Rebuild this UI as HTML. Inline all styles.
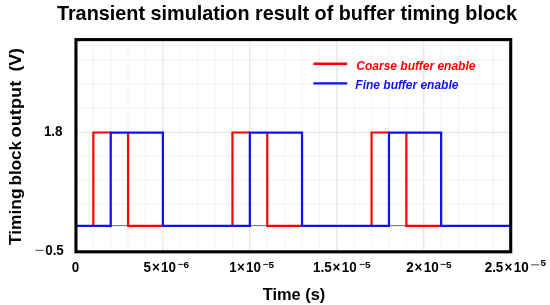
<!DOCTYPE html>
<html><head><meta charset="utf-8"><title>Transient simulation result of buffer timing block</title>
<style>
html,body{margin:0;padding:0;background:#fff;}
svg{display:block;}
text{font-family:"Liberation Sans",sans-serif;font-weight:bold;fill:#000;}
.tk{font-size:13.4px;}
.sup{font-size:8.6px;}
</style></head><body>
<svg width="550" height="305" viewBox="0 0 550 305">
<rect width="550" height="305" fill="#fff"/>
<g stroke="#f3f3f3" stroke-width="1">
<line x1="93.34" y1="39.6" x2="93.34" y2="251.8"/>
<line x1="110.73" y1="39.6" x2="110.73" y2="251.8"/>
<line x1="128.12" y1="39.6" x2="128.12" y2="251.8"/>
<line x1="145.51" y1="39.6" x2="145.51" y2="251.8"/>
<line x1="180.29" y1="39.6" x2="180.29" y2="251.8"/>
<line x1="197.68" y1="39.6" x2="197.68" y2="251.8"/>
<line x1="215.07" y1="39.6" x2="215.07" y2="251.8"/>
<line x1="232.46" y1="39.6" x2="232.46" y2="251.8"/>
<line x1="267.24" y1="39.6" x2="267.24" y2="251.8"/>
<line x1="284.63" y1="39.6" x2="284.63" y2="251.8"/>
<line x1="302.02" y1="39.6" x2="302.02" y2="251.8"/>
<line x1="319.41" y1="39.6" x2="319.41" y2="251.8"/>
<line x1="354.19" y1="39.6" x2="354.19" y2="251.8"/>
<line x1="371.58" y1="39.6" x2="371.58" y2="251.8"/>
<line x1="388.97" y1="39.6" x2="388.97" y2="251.8"/>
<line x1="406.36" y1="39.6" x2="406.36" y2="251.8"/>
<line x1="441.14" y1="39.6" x2="441.14" y2="251.8"/>
<line x1="458.53" y1="39.6" x2="458.53" y2="251.8"/>
<line x1="475.92" y1="39.6" x2="475.92" y2="251.8"/>
<line x1="493.31" y1="39.6" x2="493.31" y2="251.8"/>
<line x1="75.95" y1="60.0" x2="510.7" y2="60.0"/>
<line x1="75.95" y1="84.2" x2="510.7" y2="84.2"/>
<line x1="75.95" y1="108.3" x2="510.7" y2="108.3"/>
<line x1="75.95" y1="156.2" x2="510.7" y2="156.2"/>
<line x1="75.95" y1="180.1" x2="510.7" y2="180.1"/>
<line x1="75.95" y1="204.0" x2="510.7" y2="204.0"/>
</g>
<g stroke="#dfdfdf" stroke-width="1">
<line x1="162.9" y1="39.6" x2="162.9" y2="251.8"/>
<line x1="249.85" y1="39.6" x2="249.85" y2="251.8"/>
<line x1="336.8" y1="39.6" x2="336.8" y2="251.8"/>
<line x1="423.75" y1="39.6" x2="423.75" y2="251.8"/>
<line x1="75.95" y1="132.4" x2="510.7" y2="132.4"/>
</g>
<line x1="75.95" y1="225.65" x2="510.7" y2="225.65" stroke="#6e6e6e" stroke-width="1"/>
<path d="M93.34,225.95 V132.5 H110.73 M128.12,132.5 V225.95 H162.9 M232.46,225.95 V132.5 H249.85 M267.24,132.5 V225.95 H302.02 M371.58,225.95 V132.5 H388.97 M406.36,132.5 V225.95 H441.14" fill="none" stroke="#ff0000" stroke-width="2.2" stroke-linejoin="miter"/>
<path d="M75.95,225.95 H110.73 V132.5 H162.9 V225.95 H249.85 V132.5 H302.02 V225.95 H388.97 V132.5 H441.14 V225.95 H510.7" fill="none" stroke="#1010ff" stroke-width="2.25" stroke-linejoin="miter"/>
<rect x="75.95" y="39.6" width="434.75" height="212.20000000000002" fill="none" stroke="#000" stroke-width="3.1"/>
<text x="56.9" y="20.3" font-size="19.7px" textLength="460.2" lengthAdjust="spacingAndGlyphs">Transient simulation result of buffer timing block</text>
<line x1="313.4" y1="63.8" x2="347.2" y2="63.8" stroke="#ff0000" stroke-width="2.4"/>
<line x1="313.4" y1="83.4" x2="347.2" y2="83.4" stroke="#1010ff" stroke-width="2.4"/>
<text x="356.3" y="69.6" font-size="12px" font-style="italic" style="fill:#ff0000">Coarse buffer enable</text>
<text x="355.3" y="89.0" font-size="12px" font-style="italic" style="fill:#1010ff">Fine buffer enable</text>
<line x1="35.3" y1="250.3" x2="43.9" y2="250.3" stroke="#333" stroke-width="0.9"/>
<g transform="scale(1 1.06)"><text class="tk" x="43.9" y="128.30">1.8</text>
<text class="tk" x="45.2" y="240.47">0.5</text>
<text class="tk" x="71.7" y="256.23">0</text></g>
<g transform="scale(1 1.06)"><text class="tk" y="256.23"><tspan x="143.6">5</tspan><tspan x="151.9">×</tspan><tspan x="161.0">10</tspan></text></g><text class="sup" y="267.30" x="177.5" textLength="6.0" lengthAdjust="spacingAndGlyphs">−</text><text class="sup" y="268.30" x="183.6" textLength="5.5" lengthAdjust="spacingAndGlyphs">6</text>
<g transform="scale(1 1.06)"><text class="tk" y="256.23"><tspan x="229.2">1</tspan><tspan x="237.1">×</tspan><tspan x="246.0">10</tspan></text></g><text class="sup" y="267.30" x="262.5" textLength="6.0" lengthAdjust="spacingAndGlyphs">−</text><text class="sup" y="268.30" x="268.6" textLength="5.5" lengthAdjust="spacingAndGlyphs">5</text>
<g transform="scale(1 1.06)"><text class="tk" y="256.23"><tspan x="313.1">1.5</tspan><tspan x="332.5">×</tspan><tspan x="341.7">10</tspan></text></g><text class="sup" y="267.30" x="358.9" textLength="6.0" lengthAdjust="spacingAndGlyphs">−</text><text class="sup" y="268.30" x="365.0" textLength="5.5" lengthAdjust="spacingAndGlyphs">5</text>
<g transform="scale(1 1.06)"><text class="tk" y="256.23"><tspan x="406.3">2</tspan><tspan x="414.6">×</tspan><tspan x="423.7">10</tspan></text></g><text class="sup" y="267.30" x="440.0" textLength="6.0" lengthAdjust="spacingAndGlyphs">−</text><text class="sup" y="268.30" x="446.1" textLength="5.5" lengthAdjust="spacingAndGlyphs">5</text>
<g transform="scale(1 1.06)"><text class="tk" y="256.23"><tspan x="484.7">2.5</tspan><tspan x="504.4">×</tspan><tspan x="513.8">10</tspan></text></g><line x1="530.9" y1="264.8" x2="539.6" y2="264.8" stroke="#707070" stroke-width="1.3"/><text class="sup" x="540.4" y="265.8" textLength="5.5" lengthAdjust="spacingAndGlyphs">5</text>
<text x="262.7" y="300.0" font-size="16.4px">Time (s)</text>
<g transform="translate(20.5,0) rotate(-90)" font-size="16.4px">
<text x="-245.1" y="0" textLength="56.6" lengthAdjust="spacingAndGlyphs">Timing</text>
<text x="-185.5" y="0" textLength="44.5" lengthAdjust="spacingAndGlyphs">block</text>
<text x="-137.4" y="0" textLength="56.6" lengthAdjust="spacingAndGlyphs">output</text>
<text x="-71.6" y="0" textLength="23.6" lengthAdjust="spacingAndGlyphs">(V)</text>
</g>
</svg>
</body></html>
